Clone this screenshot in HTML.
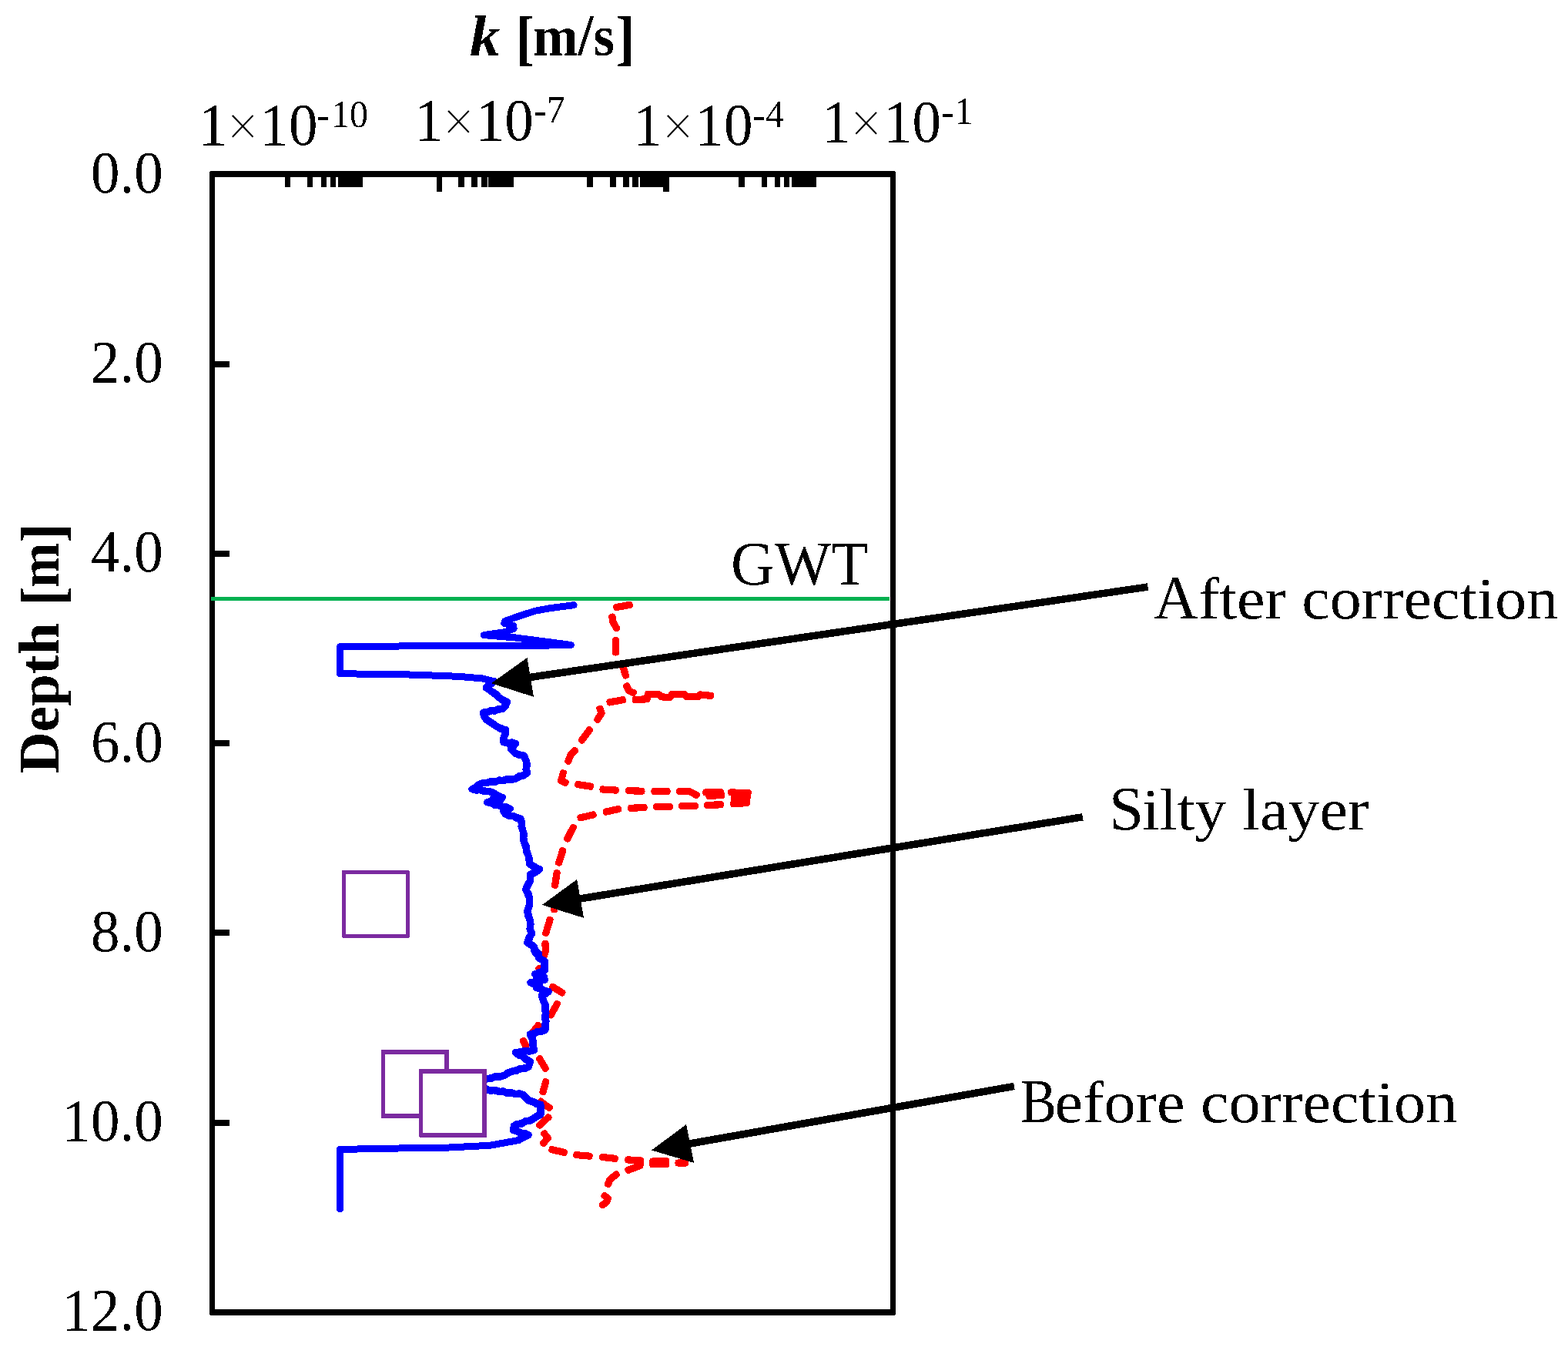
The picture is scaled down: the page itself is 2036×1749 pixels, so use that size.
<!DOCTYPE html>
<html lang="en">
<head>
<meta charset="utf-8">
<title>k [m/s] versus Depth [m]</title>
<style>
html,body{margin:0;padding:0;background:#fff;}
body{width:2036px;height:1749px;overflow:hidden;}
svg{display:block;}
.t{font-family:"Liberation Serif","DejaVu Serif",serif;fill:#000;}
.x{stroke:#fff;stroke-width:1.6px;}
</style>
</head>
<body>
<svg width="2036" height="1749" viewBox="0 0 2036 1749" shape-rendering="crispEdges">
<defs><filter id="bin" filterUnits="userSpaceOnUse" x="0" y="0" width="2036" height="1749" color-interpolation-filters="sRGB"><feComponentTransfer><feFuncA type="discrete" tableValues="0 1"/></feComponentTransfer></filter></defs>
<rect x="0" y="0" width="2036" height="1749" fill="#fff"/>
<g id="axes" fill="#000" stroke="none">
<rect x="272.0" y="222.6" width="7.0" height="1484.6"/>
<rect x="1156.2" y="222.6" width="6.8" height="1484.6"/>
<path d="M272.3 223.4 L273.3 222.1 H1162 L1163 223.4 V229.7 H272.3 Z"/>
<path d="M272.3 1699.9 H1163 V1706.6 L1162 1707.8 H273.3 L272.3 1706.6 Z"/>
<rect x="278" y="468.8" width="20" height="7.9"/>
<rect x="278" y="715.0" width="20" height="7.9"/>
<rect x="278" y="961.2" width="20" height="7.9"/>
<rect x="278" y="1207.4" width="20" height="7.9"/>
<rect x="278" y="1453.6" width="20" height="7.9"/>
</g>
<g id="xticks" fill="#000"><rect x="370.0" y="226.0" width="6.9" height="16.8"/>
<rect x="399.0" y="226.0" width="6.9" height="16.8"/>
<rect x="417.1" y="226.0" width="6.7" height="16.8"/>
<rect x="429.2" y="226.0" width="6.7" height="16.8"/>
<rect x="438.9" y="226.0" width="32.0" height="16.8"/>
<rect x="567.1" y="226.0" width="6.7" height="22.8"/>
<rect x="595.0" y="226.0" width="8.0" height="16.8"/>
<rect x="612.0" y="226.0" width="8.0" height="16.8"/>
<rect x="625.0" y="226.0" width="7.8" height="16.8"/>
<rect x="633.9" y="226.0" width="33.1" height="16.8"/>
<rect x="762.0" y="226.0" width="8.0" height="16.9"/>
<rect x="791.9" y="226.0" width="8.0" height="16.9"/>
<rect x="809.2" y="226.0" width="7.8" height="16.9"/>
<rect x="821.2" y="226.0" width="8.0" height="16.9"/>
<rect x="830.8" y="226.0" width="38.2" height="16.9"/>
<rect x="861.0" y="226.0" width="8.0" height="22.8"/>
<rect x="959.1" y="226.0" width="7.8" height="16.9"/>
<rect x="989.0" y="226.0" width="6.8" height="16.9"/>
<rect x="1006.0" y="226.0" width="6.8" height="16.9"/>
<rect x="1017.8" y="226.0" width="7.1" height="16.9"/>
<rect x="1027.9" y="226.0" width="32.1" height="16.9"/></g>
<line id="gwt" x1="274.3" y1="777.5" x2="1155" y2="777.5" stroke="#00B050" stroke-width="4.8"/>
<g id="before" fill="#FF0000" stroke="#FF0000" stroke-width="8.0" stroke-linejoin="round">
<path d="M800.4 789.1 L817.8 786.0 L817.6 784.8 L800.2 787.9Z"/>
<path d="M794.3 800.7 L795.2 807.8 L800.3 816.2 L801.3 815.6 L796.4 807.4 L795.5 800.5Z"/>
<path d="M798.9 831.3 L798.9 847.5 L800.1 847.5 L800.1 831.3Z"/>
<path d="M807.1 864.7 L809.2 868.9 L811.9 877.6 L813.1 877.2 L810.4 868.5 L808.2 864.2Z"/>
<path d="M813.0 890.8 L815.9 897.1 L822.3 900.2 L822.8 899.1 L816.9 896.3 L814.1 890.3Z"/>
<path d="M824.6 909.1 L840.5 908.4 L842.0 901.7 L854.5 901.7 L858.1 905.4 L869.7 906.2 L873.4 901.7 L888.3 902.2 L891.3 905.4 L906.5 905.4 L909.4 902.5 L923.0 904.0 L923.2 902.8 L909.0 901.3 L906.1 904.2 L891.9 904.2 L888.9 901.0 L872.8 900.5 L869.1 905.0 L858.7 904.2 L854.9 900.5 L841.0 900.5 L839.5 907.2 L824.6 907.9Z"/>
<path d="M791.6 912.5 L809.0 909.3 L808.8 908.1 L791.4 911.3Z"/>
<path d="M778.3 920.2 L780.3 925.7 L775.1 934.4 L776.1 935.0 L781.7 925.9 L779.5 919.8Z"/>
<path d="M765.2 947.1 L754.9 961.0 L755.8 961.7 L766.1 947.8Z"/>
<path d="M746.4 973.9 L740.8 979.3 L737.1 988.4 L738.2 988.9 L741.8 979.9 L747.2 974.7Z"/>
<path d="M730.8 1003.2 L728.0 1013.8 L734.2 1016.9 L734.7 1015.8 L729.4 1013.2 L731.9 1003.5Z"/>
<path d="M750.1 1019.1 L766.8 1021.8 L767.0 1020.6 L750.3 1017.9Z"/>
<path d="M782.4 1025.6 L799.8 1026.7 L799.8 1025.5 L782.4 1024.4Z"/>
<path d="M816.2 1027.3 L833.5 1027.8 L833.5 1026.6 L816.2 1026.1Z"/>
<path d="M849.4 1028.1 L866.7 1028.1 L866.7 1026.9 L849.4 1026.9Z"/>
<path d="M882.1 1028.1 L895.8 1028.5 L904.3 1033.0 L904.9 1032.0 L896.2 1027.3 L882.1 1026.9Z"/>
<path d="M916.3 1029.5 L935.3 1029.5 L935.8 1032.0 L920.4 1032.7 L920.4 1033.9 L937.2 1033.2 L936.3 1028.3 L916.3 1028.3Z"/>
<path d="M949.2 1029.5 L970.4 1030.3 L969.1 1037.9 L952.9 1036.3 L952.7 1037.5 L970.1 1039.1 L971.8 1029.1 L949.2 1028.3Z"/>
<path d="M952.1 1044.3 L970.0 1043.2 L970.0 1042.0 L952.1 1043.1Z"/>
<path d="M918.2 1046.0 L935.9 1045.4 L935.9 1044.2 L918.2 1044.8Z"/>
<path d="M885.1 1047.1 L902.9 1047.1 L902.9 1045.9 L885.1 1045.9Z"/>
<path d="M852.2 1048.2 L869.8 1047.9 L869.8 1046.7 L852.2 1047.0Z"/>
<path d="M819.0 1049.9 L836.6 1049.1 L836.6 1047.9 L819.0 1048.7Z"/>
<path d="M786.7 1054.7 L803.1 1051.1 L802.9 1049.9 L786.5 1053.5Z"/>
<path d="M753.8 1062.4 L770.7 1058.4 L770.4 1057.3 L753.5 1061.3Z"/>
<path d="M743.9 1073.8 L736.0 1089.2 L737.1 1089.7 L745.0 1074.3Z"/>
<path d="M730.1 1104.1 L725.0 1120.3 L726.2 1120.7 L731.3 1104.5Z"/>
<path d="M722.6 1133.2 L719.9 1149.6 L721.1 1149.8 L723.8 1133.4Z"/>
<path d="M717.5 1171.0 L719.1 1181.3 L720.3 1181.1 L718.7 1170.8Z"/>
<path d="M713.5 1194.0 L708.2 1211.6 L709.3 1211.9 L714.6 1194.3Z"/>
<path d="M707.4 1225.1 L707.7 1234.9 L705.9 1241.1 L707.0 1241.4 L708.9 1235.1 L708.6 1225.1Z"/>
<path d="M699.1 1257.7 L704.1 1262.3 L704.9 1261.5 L699.9 1256.9Z"/>
<path d="M717.1 1281.7 L729.9 1289.7 L730.5 1288.7 L717.7 1280.7Z"/>
<path d="M723.1 1302.8 L714.6 1317.8 L715.6 1318.4 L724.1 1303.4Z"/>
<path d="M698.6 1330.9 L692.1 1339.2 L693.0 1339.9 L699.5 1331.6Z"/>
<path d="M678.8 1351.5 L682.2 1358.5 L683.3 1358.0 L679.9 1351.0Z"/>
<path d="M700.0 1374.8 L707.9 1388.0 L708.9 1387.4 L701.0 1374.2Z"/>
<path d="M708.2 1404.2 L704.4 1418.0 L705.5 1418.3 L709.3 1404.5Z"/>
<path d="M701.4 1430.5 L713.1 1439.1 L713.8 1438.2 L702.1 1429.6Z"/>
<path d="M711.7 1450.2 L700.1 1460.8 L700.9 1461.6 L712.5 1451.0Z"/>
<path d="M706.1 1472.0 L710.5 1477.6 L704.9 1484.3 L705.8 1485.0 L712.1 1477.6 L707.0 1471.3Z"/>
<path d="M716.3 1493.3 L732.7 1497.0 L732.9 1495.8 L716.5 1492.1Z"/>
<path d="M748.3 1500.2 L765.6 1501.7 L765.7 1500.6 L748.4 1499.1Z"/>
<path d="M782.0 1503.1 L798.6 1504.9 L798.8 1503.7 L782.2 1501.9Z"/>
<path d="M815.3 1506.5 L831.0 1507.6 L830.3 1513.3 L815.4 1518.7 L815.8 1519.9 L831.5 1514.1 L832.4 1506.4 L815.3 1505.3Z"/>
<path d="M847.3 1508.7 L864.2 1508.4 L864.2 1510.9 L847.3 1511.2 L847.3 1512.4 L865.4 1512.1 L865.4 1507.2 L847.3 1507.5Z"/>
<path d="M880.4 1510.6 L890.0 1510.6 L890.0 1509.4 L880.4 1509.4Z"/>
<path d="M800.1 1524.2 L791.1 1531.7 L788.9 1537.6 L790.1 1538.0 L792.1 1532.5 L800.8 1525.1Z"/>
<path d="M784.4 1552.8 L788.7 1556.6 L787.0 1560.4 L781.8 1564.4 L782.5 1565.3 L788.0 1561.2 L790.1 1556.2 L785.1 1551.9Z"/>
</g>
<g id="after" fill="none" stroke="#0000FF" stroke-linecap="round" stroke-linejoin="round">
<polyline points="745.1,785.7 714.7,789.6 695.0,793.2 675.4,799.5 655.8,806.3 654.8,809.3 666.6,812.2 667.2,816.2 655.8,820.7 628.3,824.6 669.5,828.0 741.2,837.4 675.4,838.8 518.2,839.0 441.5,839.6 441.5,874.7 537.9,876.1 596.8,878.4 626.3,881.0 642.0,884.9 631.2,892.8 638.1,897.7 647.9,905.6 658.7,911.5 652.8,920.3 627.3,925.2 632.2,935.0 644.0,942.9 656.7,947.8 653.8,958.6 653.8,963.5 669.5,965.5 663.6,972.4 669.5,978.3 680.3,981.2 683.3,988.1 684.2,1003.8 670.0,1010.8 626.8,1016.7 613.0,1024.6 634.7,1027.5 652.3,1035.4 640.0,1037.5 650.0,1039.0 632.7,1041.7 662.2,1050.1 653.5,1053.0 656.3,1057.0 675.9,1062.9 678.9,1078.6 680.8,1094.3 685.7,1110.0 687.7,1121.8 700.5,1128.7 688.7,1135.6 688.7,1143.4 682.8,1155.2 687.7,1167.0 687.7,1174.9 684.8,1182.7 688.1,1194.5 688.1,1206.3 690.6,1212.2 684.8,1224.0 693.6,1229.9 699.5,1241.7 693.7,1233.5 699.6,1238.4 699.8,1244.3 707.4,1248.2 707.6,1259.5 694.7,1264.9 706.0,1267.6 697.0,1270.4 707.4,1272.4 688.8,1275.9 700.5,1279.2 696.8,1282.8 712.3,1287.5 703.5,1292.4 705.5,1299.3 708.1,1304.7 708.1,1337.1 688.4,1343.0 692.3,1351.8 693.3,1363.6 669.7,1366.5 688.4,1378.3 686.4,1385.2 664.8,1391.1 655.0,1396.3 631.4,1400.9 616.5,1407.8 632.2,1414.7 679.3,1421.5 687.2,1429.4 701.9,1434.3 701.9,1447.1 692.1,1453.0 667.5,1461.8 666.6,1467.7 686.2,1473.6 673.4,1480.5 636.1,1487.3 577.2,1490.3 518.2,1491.0 478.9,1491.7 441.5,1492.5 441.5,1569.7" stroke-width="9.0"/>
<polyline points="642.0,884.9 636.1,888.2 631.2,892.8 638.1,897.7 643.5,901.0 647.9,905.6 652.9,909.3 658.7,911.5 656.4,916.3 652.8,920.3 647.5,920.5 642.8,923.0 637.3,922.5 632.6,925.0 627.3,925.2 629.0,930.5 632.2,935.0 638.5,938.3 644.0,942.9 650.1,946.1 656.7,947.8 656.0,953.4 653.8,958.6 653.8,963.5 658.9,965.0 664.4,964.0 669.5,965.5 663.6,972.4 669.5,978.3 674.7,980.5 680.3,981.2 683.3,988.1 684.4,993.3 683.1,998.6 684.2,1003.8 679.8,1006.9 674.4,1007.7 670.0,1010.8 664.7,1012.3 659.1,1011.5 653.9,1013.8 648.3,1013.0 643.1,1015.3 637.5,1014.4 632.3,1016.8 626.8,1016.7 621.8,1018.6 618.0,1022.7 613.0,1024.6 618.3,1026.1 624.0,1025.3 629.2,1027.6 634.7,1027.5 640.9,1029.4 646.1,1033.5 652.3,1035.4 646.3,1037.2 640.0,1037.5 644.9,1039.0 650.0,1039.0 644.4,1040.7 638.3,1040.0 632.7,1041.7 637.8,1042.3 642.3,1045.3 647.7,1045.1 652.1,1048.1 657.5,1047.9 662.2,1050.1 653.5,1053.0 656.3,1057.0 661.0,1059.2 666.3,1059.2 670.8,1062.2 675.9,1062.9 677.7,1068.0 677.1,1073.5 678.9,1078.6 680.3,1083.7 679.4,1089.2 680.8,1094.3 683.2,1099.3 683.3,1105.0 685.7,1110.0 687.5,1115.8 687.7,1121.8 693.7,1126.0 700.5,1128.7 695.0,1132.8 688.7,1135.6 688.7,1143.4 685.0,1148.9 682.8,1155.2 686.0,1160.8 687.7,1167.0 687.7,1174.9 684.8,1182.7 685.7,1188.8 688.1,1194.5 688.9,1200.4 688.1,1206.3 690.6,1212.2 687.0,1217.7 684.8,1224.0 689.6,1226.3 693.6,1229.9 695.8,1236.2 699.5,1241.7 695.9,1238.1 693.7,1233.5 699.6,1238.4 699.8,1244.3 707.4,1248.2 706.7,1253.9 707.6,1259.5 701.5,1262.9 694.7,1264.9 700.2,1267.0 706.0,1267.6 697.0,1270.4 702.4,1270.6 707.4,1272.4 701.1,1272.8 695.1,1275.5 688.8,1275.9 694.4,1278.3 700.5,1279.2 696.8,1282.8 702.2,1283.6 706.9,1286.7 712.3,1287.5 708.3,1290.6 703.5,1292.4 705.5,1299.3 708.1,1304.7 707.3,1310.1 708.9,1315.5 707.3,1320.9 708.9,1326.3 707.3,1331.7 708.1,1337.1 703.4,1339.3 698.0,1339.3 693.6,1342.3 688.4,1343.0 692.3,1351.8 692.0,1357.8 693.3,1363.6 687.5,1365.1 681.4,1364.3 675.7,1366.6 669.7,1366.5 673.9,1370.1 679.5,1371.7 683.3,1376.0 688.4,1378.3 686.4,1385.2 681.2,1387.4 675.4,1387.4 670.4,1390.4 664.8,1391.1 659.5,1393.0 655.0,1396.3 649.3,1398.2 643.0,1397.8 637.5,1400.5 631.4,1400.9 626.1,1402.5 621.8,1406.2 616.5,1407.8 621.4,1410.8 627.3,1411.7 632.2,1414.7 637.3,1416.2 642.8,1415.4 647.8,1417.8 653.2,1416.9 658.3,1419.3 663.7,1418.4 668.7,1420.8 674.2,1420.0 679.3,1421.5 682.7,1426.0 687.2,1429.4 692.4,1430.3 696.7,1433.4 701.9,1434.3 702.7,1440.7 701.9,1447.1 696.6,1449.4 692.1,1453.0 687.4,1455.5 682.0,1455.8 677.6,1459.0 672.2,1459.3 667.5,1461.8 666.6,1467.7 671.7,1468.4 676.2,1471.4 681.5,1471.4 686.2,1473.6 679.4,1476.3 673.4,1480.5" stroke-width="9.4"/>
</g>
<g id="samples">
<rect x="444.1" y="1130.1" width="87.7" height="87.8" rx="1.6" fill="#7B2AA0"/>
<rect x="449.0" y="1135.0" width="78.1" height="78.1" fill="#fff"/>
<rect x="495.0" y="1362.9" width="87.9" height="89.0" rx="1.6" fill="#7B2AA0"/>
<rect x="500.0" y="1369.0" width="77.1" height="77.0" fill="#fff"/>
<rect x="544.1" y="1388.0" width="87.9" height="88.9" rx="1.6" fill="#7B2AA0"/>
<rect x="548.9" y="1393.7" width="77.2" height="77.4" fill="#fff"/>
</g>
<g id="arrows" fill="#000" stroke="none">
<polygon points="1489.8,757.3 684.1,875.2 685.5,884.7 1491.2,766.7"/>
<polygon points="637.9,887.2 684.6,854.0 692.9,904.8"/>
<polygon points="1405.0,1056.1 748.9,1162.8 750.4,1172.3 1406.6,1065.5"/>
<polygon points="703.9,1174.9 749.2,1141.9 758.0,1191.9"/>
<polygon points="1316.1,1405.7 891.3,1480.9 892.9,1490.4 1317.7,1415.1"/>
<polygon points="846.0,1493.5 891.1,1460.0 901.0,1509.9"/>
</g>
<g id="labels" filter="url(#bin)">
<text class="t" transform="translate(211.8,250.0) scale(1.0,1.04)" font-size="75" text-anchor="end" >0.0</text>
<text class="t" transform="translate(211.8,496.2) scale(1.0,1.04)" font-size="75" text-anchor="end" >2.0</text>
<text class="t" transform="translate(211.8,742.4) scale(1.0,1.04)" font-size="75" text-anchor="end" >4.0</text>
<text class="t" transform="translate(211.8,988.6) scale(1.0,1.04)" font-size="75" text-anchor="end" >6.0</text>
<text class="t" transform="translate(211.8,1234.9) scale(1.0,1.04)" font-size="75" text-anchor="end" >8.0</text>
<text class="t" transform="translate(211.8,1481.1) scale(1.0,1.04)" font-size="75" text-anchor="end" >10.0</text>
<text class="t" transform="translate(211.8,1727.3) scale(1.0,1.04)" font-size="75" text-anchor="end" >12.0</text>
<text class="t" y="71.5" font-size="75" font-weight="bold"><tspan x="610.0" textLength="39.4" lengthAdjust="spacingAndGlyphs" font-style="italic">k</tspan> <tspan x="669.5" font-size="79" dy="3.5" textLength="24.7" lengthAdjust="spacingAndGlyphs">[</tspan><tspan x="691.9" dy="-3.5" textLength="58.7" lengthAdjust="spacingAndGlyphs">m</tspan><tspan x="750.6" font-size="76.5" dy="-0.9" textLength="20.0" lengthAdjust="spacingAndGlyphs">/</tspan><tspan x="770.6" dy="0.9" textLength="27.4" lengthAdjust="spacingAndGlyphs">s</tspan><tspan x="799.5" font-size="79" dy="3.5" textLength="24.7" lengthAdjust="spacingAndGlyphs">]</tspan></text>
<text class="t" transform="translate(76,1004.5) rotate(-90)" font-size="75" font-weight="bold"><tspan x="0.0">Depth</tspan> <tspan x="218.3" font-size="79" dy="4.5" textLength="24.6" lengthAdjust="spacingAndGlyphs">[</tspan><tspan x="241.5" dy="-4.5" textLength="58.4" lengthAdjust="spacingAndGlyphs">m</tspan><tspan x="299.9" font-size="79" dy="4.5" textLength="24.6" lengthAdjust="spacingAndGlyphs">]</tspan></text>
<text class="t" transform="translate(257.7,188) scale(1,1.04)" font-size="75">1<tspan class="x" dx="-1.2" dy="1.9">×</tspan><tspan dx="1.2" dy="-1.9">10</tspan><tspan font-size="50" dx="-1.2" dy="-20.4">-</tspan><tspan font-size="48" dx="2.2" dy="-2.0">10</tspan></text>
<text class="t" transform="translate(538,182.3) scale(1,1.04)" font-size="75">1<tspan class="x" dx="-1.2" dy="1.9">×</tspan><tspan dx="1.2" dy="-1.9">10</tspan><tspan font-size="50" dx="0.3" dy="-20.4">-</tspan><tspan font-size="48" dx="0.1" dy="-2.0">7</tspan></text>
<text class="t" transform="translate(822.6,187.9) scale(1,1.04)" font-size="75">1<tspan class="x" dx="-1.2" dy="1.9">×</tspan><tspan dx="1.2" dy="-1.9">10</tspan><tspan font-size="50" dx="-0.5" dy="-20.4">-</tspan><tspan font-size="48" dx="0.4" dy="-2.0">4</tspan></text>
<text class="t" transform="translate(1067.2,184) scale(1,1.04)" font-size="75">1<tspan class="x" dx="-1.2" dy="1.9">×</tspan><tspan dx="1.2" dy="-1.9">10</tspan><tspan font-size="50" dx="0.3" dy="-20.4">-</tspan><tspan font-size="48" dx="0.7" dy="-2.0">1</tspan></text>
<text class="t" y="759"><tspan x="949.0" font-size="80" textLength="178.4" lengthAdjust="spacingAndGlyphs">GWT</tspan></text>
<text class="t" y="803"><tspan x="1498.1" font-size="80" textLength="57.5" lengthAdjust="spacingAndGlyphs">A</tspan><tspan x="1555.9" font-size="75.5" textLength="467.3" lengthAdjust="spacingAndGlyphs">fter correction</tspan></text>
<text class="t" y="1077.2"><tspan x="1440.0" font-size="80" textLength="45.0" lengthAdjust="spacingAndGlyphs">S</tspan><tspan x="1482.9" font-size="75.5" textLength="294.6" lengthAdjust="spacingAndGlyphs">ilty layer</tspan></text>
<text class="t" y="1457"><tspan x="1325.1" font-size="80" textLength="46.9" lengthAdjust="spacingAndGlyphs">B</tspan><tspan x="1369.6" font-size="75.5" textLength="522.7" lengthAdjust="spacingAndGlyphs">efore correction</tspan></text>
</g>
</svg>
</body>
</html>
